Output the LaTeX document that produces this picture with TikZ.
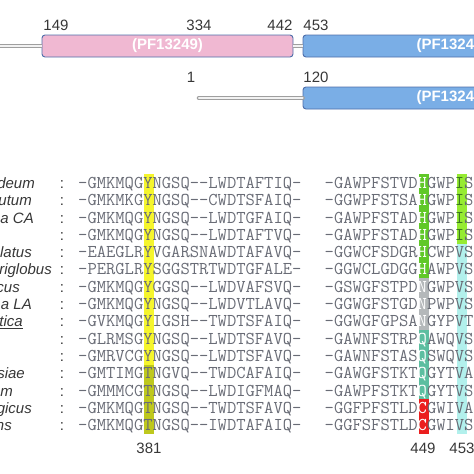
\documentclass[tikz,border=0pt]{standalone}
\usepackage{fontspec}
\setmainfont{Liberation Sans}
\definecolor{domainpink}{RGB}{240,184,210}
\definecolor{domainblue}{RGB}{122,174,230}
\definecolor{domainedge}{RGB}{78,110,170}
\definecolor{seqgray}{RGB}{105,108,118}
\definecolor{labelgray}{RGB}{55,55,55}
\definecolor{hlyellow}{RGB}{245,245,45}
\definecolor{hlolive}{RGB}{190,200,30}
\definecolor{hlgreen}{RGB}{96,200,40}
\definecolor{hllime}{RGB}{150,235,50}
\definecolor{hlgray}{RGB}{180,184,186}
\definecolor{hlteal}{RGB}{92,190,160}
\definecolor{hlred}{RGB}{235,30,30}
\definecolor{hlcyan}{RGB}{178,240,236}
\definecolor{igreen}{RGB}{60,120,30}
\usetikzlibrary{positioning,calc}

\tikzset{
  pfambox/.style={rounded corners=3pt, draw=domainedge, line width=0.9pt, minimum height=22pt,
    inner sep=0pt, text=white, font=\bfseries\fontsize{15}{17}\selectfont},
  linker/.style={draw=gray!75, double=gray!10, double distance=2.4pt, line width=1.1pt},
  poslabel/.style={inner sep=0pt, text=labelgray, font=\fontsize{15}{17}\selectfont},
  species/.style={anchor=base east, inner sep=0pt, text=labelgray, font=\itshape\fontsize{15}{17}\selectfont},
  sepmark/.style={anchor=base, inner sep=0pt, text=labelgray, font=\fontsize{15}{17}\selectfont},
  seqrow/.style={anchor=base west, inner sep=0pt, text=seqgray, font=\ttfamily\fontsize{18.06}{20}\selectfont}
}

\begin{document}
\begin{tikzpicture}[x=1pt, y=-1pt]
  \useasboundingbox (0,0) rectangle (474,474);
  \clip (0,0) rectangle (474,474);
  \def\cw{9.48}
  \def\rh{17.3}

  \node[pfambox, fill=domainpink, minimum width=251pt] (pf49) at (167.5,46) {(PF13249)};
  \node[pfambox, fill=domainblue, minimum width=298pt] (pf43a) at (452,46) {(PF13243)};
  \node[pfambox, fill=domainblue, minimum width=298pt] (pf43b) at (452,98) {(PF13243)};
  \coordinate (lk1) at (-10,46);
  \coordinate (lk2) at (199,98);
  \draw[linker] (lk1) -- (pf49.west);
  \draw[linker] (pf49.east) -- (pf43a.west);
  \draw[linker, line cap=round] (lk2) -- (pf43b.west);

  \node[poslabel] (p149) at (56,25) {149};
  \node[poslabel] (p334) at (199,25) {334};
  \node[poslabel] (p442) at (280,25) {442};
  \node[poslabel] (p453) at (316,25) {453};
  \node[poslabel] (p1) at (191,77) {1};
  \node[poslabel] (p120) at (316,77) {120};

  \fill[hlyellow] (78+7*\cw,174.35) rectangle (78+8*\cw,174.35+11*\rh);
  \fill[hlolive] (78+7*\cw,174.35+11*\rh) rectangle (78+8*\cw,174.35+15*\rh);
  \fill[hlgreen] (324.5+10*\cw,174.35) rectangle (324.5+11*\cw,174.35+6*\rh);
  \fill[hlgray] (324.5+10*\cw,174.35+6*\rh) rectangle (324.5+11*\cw,174.35+9*\rh);
  \fill[hlteal] (324.5+10*\cw,174.35+9*\rh) rectangle (324.5+11*\cw,174.35+13*\rh);
  \fill[hlred] (324.5+10*\cw,174.35+13*\rh) rectangle (324.5+11*\cw,174.35+15*\rh);
  \fill[hllime] (324.5+14*\cw,174.35) rectangle (324.5+15*\cw,174.35+4*\rh);
  \fill[hlcyan] (324.5+14*\cw,174.35+4*\rh) rectangle (324.5+15*\cw,174.35+15*\rh);

  \foreach \ne/\nm/\sa/\sb [count=\i] in {
    35/deum/-GMKMQGYNGSQ--LWDTAFTIQ-/{-GAWPFSTVD\textcolor{white}{H}GWP\textcolor{igreen}{I}S},
    32/utum/-GMKMKGYNGSQ--CWDTSFAIQ-/{-GGWPFSTSA\textcolor{white}{H}GWP\textcolor{igreen}{I}S},
    34/a CA/-GMKMQGYNGSQ--LWDTGFAIQ-/{-GAWPFSTAD\textcolor{white}{H}GWP\textcolor{igreen}{I}S},
    34/{}/-GMKMQGYNGSQ--LWDTAFTVQ-/{-GAWPFSTAD\textcolor{white}{H}GWP\textcolor{igreen}{I}S},
    32/elatus/-EAEGLRYVGARSNAWDTAFAVQ-/{-GGWCFSDGR\textcolor{white}{H}CWPVS},
    52/rriglobus/-PERGLRYSGGSTRTWDTGFALE-/{-GGWCLGDGG\textcolor{white}{H}AWPVS},
    20/cus/-GMKMQGYGGSQ--LWDVAFSVQ-/{-GSWGFSTPD\textcolor{white}{N}GWPVS},
    32/a LA/-GMKMQGYNGSQ--LWDVTLAVQ-/{-GGWGFSTGD\textcolor{white}{N}PWPVS},
    23/{\underline{tica}}/-GVKMQGYIGSH--TWDTSFAIQ-/{-GGWGFGPSA\textcolor{white}{N}GYPVT},
    34/{}/-GLRMSGYNGSQ--LWDTSFAVQ-/{-GAWNFSTRP\textcolor{white}{Q}AWQVS},
    34/{}/-GMRVCGYNGSQ--LWDTSFAVQ-/{-GAWNFSTAS\textcolor{white}{Q}SWQVS},
    25/siae/-GMTIMGTNGVQ--TWDCAFAIQ-/{-GAWGFSTKT\textcolor{white}{Q}GYTVA},
    13/m/-GMMMCGTNGSQ--LWDIGFMAQ-/{-GAWPFSTKT\textcolor{white}{Q}GYTVS},
    32/gicus/-GMKMQGTNGSQ--TWDTSFAVQ-/{-GGFPFSTLD\textcolor{white}{C}GWIVA},
    12/ns/-GMKMQGTNGSQ--IWDTAFAIQ-/{-GGFSFSTLD\textcolor{white}{C}GWIVS}} {
    \pgfmathsetmacro\yy{183+\rh*(\i-1)+5.4}
    \node[species] (nm\i) at (\ne,\yy) {\nm};
    \node[sepmark] (sep\i) at (62,\yy) {:};
    \node[seqrow] (sa\i) at (78,\yy) {\sa};
    \node[seqrow] (sb\i) at (324.5,\yy) {\sb};
  }

  \node[poslabel] (p381) at (149,448) {381};
  \node[poslabel] (p449) at (423,448) {449};
  \node[poslabel] (p453b) at (462,448) {453};
\end{tikzpicture}
\end{document}
